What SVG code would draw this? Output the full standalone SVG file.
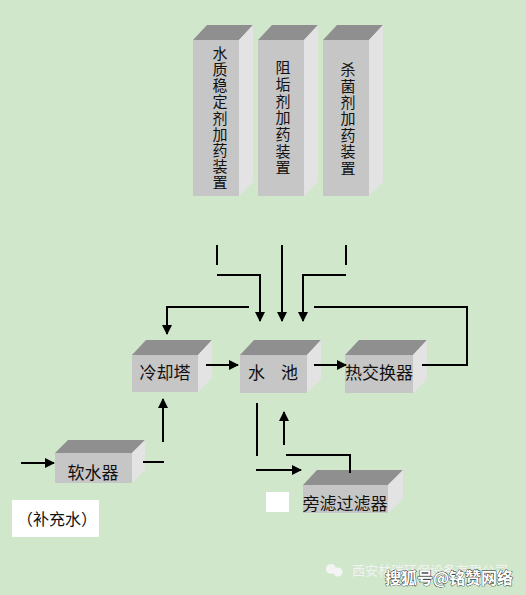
<svg xmlns="http://www.w3.org/2000/svg" width="526" height="595" viewBox="0 0 526 595">
<defs>
<style>
.front{fill:#c6c6c6}
.top{fill:#8f8f8f}
.side{fill:#e3e3e3}
.lbl{font-family:"Noto Sans CJK SC","Noto Sans CJK JP",sans-serif;font-size:17px;fill:#111}
.vl{font-family:"Noto Sans CJK SC","Noto Sans CJK JP",sans-serif;font-size:15px;fill:#111;writing-mode:vertical-rl}
.ln{stroke:#000;stroke-width:2;fill:none}
.ar{stroke:#000;stroke-width:2;fill:none;marker-end:url(#ah)}
</style>
<marker id="ah" viewBox="0 0 10 10" refX="9" refY="5" markerWidth="5" markerHeight="5" orient="auto" markerUnits="strokeWidth">
<path d="M0,0 L10,5 L0,10 z" fill="#000"/>
</marker>
</defs>
<rect width="526" height="595" fill="#d0e7cb"/>

<g id="dose1">
<polygon class="top" points="193,40 207,25 253,25 239,40"/>
<polygon class="side" points="239,40 253,25 253,182 239,196"/>
<rect class="front" x="193" y="40" width="46" height="156"/>
<text class="vl" x="220" y="46" style="letter-spacing:1.1px">水质稳定剂加药装置</text>
</g>

<g id="dose2">
<polygon class="top" points="258,40 272,25 318,25 304,40"/>
<polygon class="side" points="304,40 318,25 318,182 304,196"/>
<rect class="front" x="258" y="40" width="46" height="156"/>
<text class="vl" x="283" y="60" style="letter-spacing:1.7px">阻垢剂加药装置</text>
</g>

<g id="dose3">
<polygon class="top" points="323,40 337,25 383,25 369,40"/>
<polygon class="side" points="369,40 383,25 383,182 369,196"/>
<rect class="front" x="323" y="40" width="46" height="156"/>
<text class="vl" x="348" y="62" style="letter-spacing:1.4px">杀菌剂加药装置</text>
</g>

<g id="tower">
<polygon class="top" points="132,355 146,340 212,340 198,355"/>
<polygon class="side" points="198,355 212,340 212,378 198,392"/>
<rect class="front" x="132" y="355" width="66" height="37"/>
<text class="lbl" x="165" y="379" text-anchor="middle">冷却塔</text>
</g>

<g id="pool">
<polygon class="top" points="240,355 254,340 321,340 307,355"/>
<polygon class="side" points="307,355 321,340 321,379 307,393"/>
<rect class="front" x="240" y="355" width="67" height="38"/>
<text class="lbl" x="248" y="379">水</text>
<text class="lbl" x="281" y="379">池</text>
</g>

<g id="hx">
<polygon class="top" points="345,355 359,340 427,340 413,355"/>
<polygon class="side" points="413,355 427,340 427,379 413,393"/>
<rect class="front" x="345" y="355" width="68" height="38"/>
<text class="lbl" x="379" y="379" text-anchor="middle">热交换器</text>
</g>

<g id="softener">
<polygon class="top" points="55,453 68,440 145,440 132,453"/>
<polygon class="side" points="132,453 145,440 145,470 132,483"/>
<rect class="front" x="55" y="453" width="77" height="30"/>
<text class="lbl" x="93" y="479" text-anchor="middle">软水器</text>
</g>

<g id="makeup">
<rect x="12" y="500" width="87" height="37" fill="#fff"/>
<text class="lbl" x="17" y="525" style="font-size:16px">（补充水）</text>
</g>

<g id="marker-square">
<rect x="266" y="492" width="23" height="20" fill="#fff"/>
</g>

<g id="sidefilter">
<polygon class="top" points="303,485 317,470 403,470 388,485"/>
<polygon class="side" points="388,485 403,470 403,499 388,513"/>
<rect class="front" x="303" y="485" width="85" height="28"/>
<text class="lbl" x="345" y="510" text-anchor="middle">旁滤过滤器</text>
</g>

<g id="connectors">
<line class="ln" x1="217" y1="245" x2="217" y2="265"/>
<polyline class="ar" points="217,275 260,275 260,321"/>
<line class="ar" x1="282" y1="245" x2="282" y2="321"/>
<line class="ln" x1="346" y1="245" x2="346" y2="265"/>
<polyline class="ar" points="346,275 303,275 303,321"/>
<polyline class="ar" points="249,307 167,307 167,334"/>
<polyline class="ln" points="422,365 467,365 467,307 314,307"/>
<line class="ar" x1="206" y1="365" x2="238" y2="365"/>
<line class="ar" x1="314" y1="365" x2="346" y2="365"/>
<line class="ar" x1="21" y1="463" x2="54" y2="463"/>
<line class="ln" x1="143" y1="462" x2="164" y2="462"/>
<line class="ar" x1="163" y1="442" x2="163" y2="399"/>
<line class="ln" x1="257" y1="403" x2="257" y2="456"/>
<line class="ar" x1="256" y1="470" x2="301" y2="470"/>
<polyline class="ln" points="286,455 350,455 350,473"/>
<line class="ar" x1="284" y1="445" x2="284" y2="412"/>
</g>

<g id="watermark">
<circle cx="331" cy="569" r="5" fill="#f4f4f4"/>
<circle cx="338" cy="572" r="4.5" fill="#f4f4f4"/>
<text x="352" y="575" style="font-family:'Noto Sans CJK SC',sans-serif;font-size:13px;fill:#f2f2f2">西安林瑞环保设备有限公司</text>
<text x="385" y="584" style="font-family:'Noto Sans CJK SC',sans-serif;font-size:16px;font-weight:bold;fill:#fff;stroke:#222;stroke-width:0.8;paint-order:stroke">搜狐号@铭赞网络</text>
</g>
</svg>
